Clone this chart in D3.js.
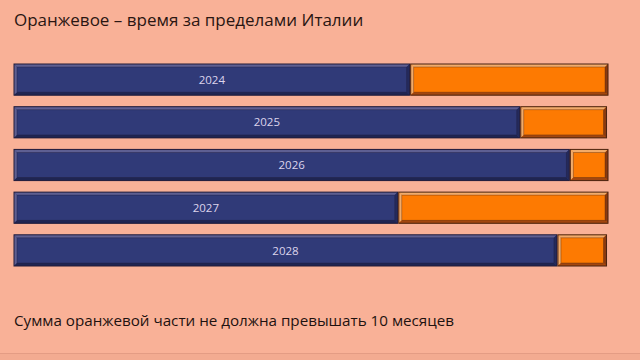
<!DOCTYPE html>
<html>
<head>
<meta charset="utf-8">
<style>
  body { margin: 0; background: #f9b197; }
  svg { display: block; }
  text { font-family: "Open Sans", "Noto Sans", sans-serif; }
</style>
</head>
<body>
<svg width="640" height="360"></svg>
<script src="https://cdn.jsdelivr.net/npm/d3@7"></script>
<script>
// months per year: blue = in Italy, orange = outside
var years = ["2024", "2025", "2026", "2027", "2028"];
var inside = [7.98, 10.2, 11.2, 7.74, 10.95];
var outside = [4.0, 1.75, 0.78, 4.24, 1.0];

var title = "Оранжевое – время за пределами Италии";
var note = "Сумма оранжевой части не должна превышать 10 месяцев";

var svg = d3.select("svg");
var W = 640, H = 360;

svg.append("rect").attr("width", W).attr("height", H).attr("fill", "#f9b197");

var x = d3.scaleLinear().domain([0, 12]).range([14, 609]);
var y = d3.scaleBand().domain(years).range([64, 266]).paddingInner(0.27).paddingOuter(0);

var blue = { fill: "#303a78", light: "#5e5f92", dark: "#1f2552", side: "#242a5c", edge: "#221c3a" };
var orng = { fill: "#fd7a02", light: "#f2ab6a", dark: "#a2460f", side: "#8a3a10", edge: "#4a2210" };

function bevelBar(g, x0, x1, y0, h, c) {
  var b = 3;
  var y1 = y0 + h;
  g.append("rect").attr("x", x0).attr("y", y0).attr("width", x1 - x0).attr("height", h)
    .attr("fill", c.fill);
  // top
  g.append("polygon").attr("points", [[x0, y0], [x1, y0], [x1 - b, y0 + b], [x0 + b, y0 + b]].join(" "))
    .attr("fill", c.light);
  // left
  g.append("polygon").attr("points", [[x0, y0], [x0 + b, y0 + b], [x0 + b, y1 - b], [x0, y1]].join(" "))
    .attr("fill", c.light);
  // bottom
  g.append("polygon").attr("points", [[x0, y1], [x0 + b, y1 - b], [x1 - b, y1 - b], [x1, y1]].join(" "))
    .attr("fill", c.dark);
  // right
  g.append("polygon").attr("points", [[x1, y0], [x1, y1], [x1 - b, y1 - b], [x1 - b, y0 + b]].join(" "))
    .attr("fill", c.side);
  g.append("rect").attr("x", x0).attr("y", y0).attr("width", x1 - x0).attr("height", h)
    .attr("fill", "none").attr("stroke", c.edge).attr("stroke-width", 1);
  // inner edge of the bevel
  g.append("rect").attr("x", x0 + b).attr("y", y0 + b).attr("width", x1 - x0 - 2 * b).attr("height", h - 2 * b)
    .attr("fill", "none").attr("stroke", c.edge).attr("stroke-opacity", 0.45).attr("stroke-width", 0.8);
}

years.forEach(function (yr, i) {
  var g = svg.append("g").attr("class", "bar");
  var y0 = y(yr), h = y.bandwidth();
  var xa = x(0), xb = x(inside[i]), xc = x(inside[i] + outside[i]);
  bevelBar(g, xa, xb, y0, h, blue);
  bevelBar(g, xb + 1, xc, y0, h, orng);
  g.append("text")
    .attr("x", (xa + xb) / 2)
    .attr("y", y0 + h / 2)
    .attr("dy", "0.36em")
    .attr("text-anchor", "middle")
    .attr("font-size", 11.5)
    .attr("fill", "#dcd4ec")
    .text(yr);
});

svg.append("text")
  .attr("x", 14).attr("y", 26)
  .attr("font-size", 17)
  .attr("fill", "#2a1612")
  .text(title);

svg.append("text")
  .attr("x", 14).attr("y", 326)
  .attr("font-size", 15.2)
  .attr("fill", "#1e1210")
  .text(note);

// status strip at the bottom
svg.append("rect").attr("x", 0).attr("y", 353).attr("width", W).attr("height", 7).attr("fill", "#f3ab91");
svg.append("line").attr("x1", 0).attr("x2", W).attr("y1", 353.5).attr("y2", 353.5)
  .attr("stroke", "#e49c84").attr("stroke-width", 1);
</script>
</body>
</html>
